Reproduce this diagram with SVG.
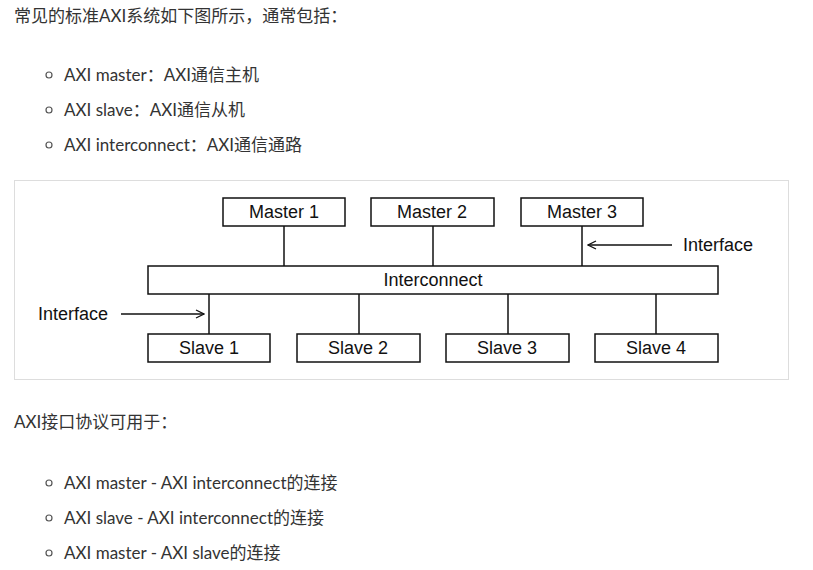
<svg xmlns="http://www.w3.org/2000/svg" width="813" height="570" viewBox="0 0 813 570">
<style>
.t{font-family:Lato,"Noto Sans CJK SC",sans-serif;font-size:17px;fill:#333}
.d{font-family:"Liberation Sans",Arial,sans-serif;font-size:18px;fill:#111;text-anchor:middle}
.b{fill:#fff;stroke:#111;stroke-width:1.5}
.c{stroke:#111;stroke-width:1.5;fill:none}
.bl{fill:none;stroke:#555;stroke-width:1.2}
</style>
<defs><marker id="a" markerWidth="10" markerHeight="10" refX="9" refY="5" orient="auto" markerUnits="userSpaceOnUse"><path d="M1,1 L9,5 L1,9" fill="none" stroke="#111" stroke-width="1.3"/></marker></defs>
<rect width="813" height="570" fill="#fff"/>
<text class="t" x="14" y="22">常见的标准AXI系统如下图所示，通常包括：</text>
<circle class="bl" cx="49" cy="75" r="3"/><text class="t" x="64" y="81">AXI master：AXI通信主机</text>
<circle class="bl" cx="49" cy="110" r="3"/><text class="t" x="64" y="116">AXI slave：AXI通信从机</text>
<circle class="bl" cx="49" cy="145" r="3"/><text class="t" x="64" y="151">AXI interconnect：AXI通信通路</text>
<rect x="14.5" y="180.5" width="774" height="199" fill="#fff" stroke="#ddd"/>
<g id="connectors">
<line class="c" x1="284" y1="226" x2="284" y2="266"/>
<line class="c" x1="433" y1="226" x2="433" y2="266"/>
<line class="c" x1="582" y1="226" x2="582" y2="266"/>
<line class="c" x1="209" y1="294" x2="209" y2="334"/>
<line class="c" x1="359" y1="294" x2="359" y2="334"/>
<line class="c" x1="508" y1="294" x2="508" y2="334"/>
<line class="c" x1="656" y1="294" x2="656" y2="334"/>
<line class="c" x1="121" y1="314" x2="204" y2="314" marker-end="url(#a)"/>
<line class="c" x1="672" y1="245" x2="588" y2="245" marker-end="url(#a)"/>
</g>
<g id="m1"><rect class="b" x="223" y="198" width="122" height="28"/><text class="d" x="284" y="218">Master 1</text></g>
<g id="m2"><rect class="b" x="371" y="198" width="123" height="28"/><text class="d" x="432" y="218">Master 2</text></g>
<g id="m3"><rect class="b" x="521" y="198" width="122" height="28"/><text class="d" x="582" y="218">Master 3</text></g>
<g id="ic"><rect class="b" x="148" y="266" width="570" height="28"/><text class="d" x="433" y="286">Interconnect</text></g>
<g id="s1"><rect class="b" x="148" y="334" width="122" height="28"/><text class="d" x="209" y="354">Slave 1</text></g>
<g id="s2"><rect class="b" x="297" y="334" width="123" height="28"/><text class="d" x="358" y="354">Slave 2</text></g>
<g id="s3"><rect class="b" x="446" y="334" width="123" height="28"/><text class="d" x="507" y="354">Slave 3</text></g>
<g id="s4"><rect class="b" x="595" y="334" width="123" height="28"/><text class="d" x="656" y="354">Slave 4</text></g>
<text class="d" x="73" y="320">Interface</text>
<text class="d" x="718" y="251">Interface</text>
<text class="t" x="14" y="428">AXI接口协议可用于：</text>
<circle class="bl" cx="49" cy="483" r="3"/><text class="t" x="64" y="489">AXI master - AXI interconnect的连接</text>
<circle class="bl" cx="49" cy="518" r="3"/><text class="t" x="64" y="524">AXI slave - AXI interconnect的连接</text>
<circle class="bl" cx="49" cy="553" r="3"/><text class="t" x="64" y="559">AXI master - AXI slave的连接</text>
</svg>
